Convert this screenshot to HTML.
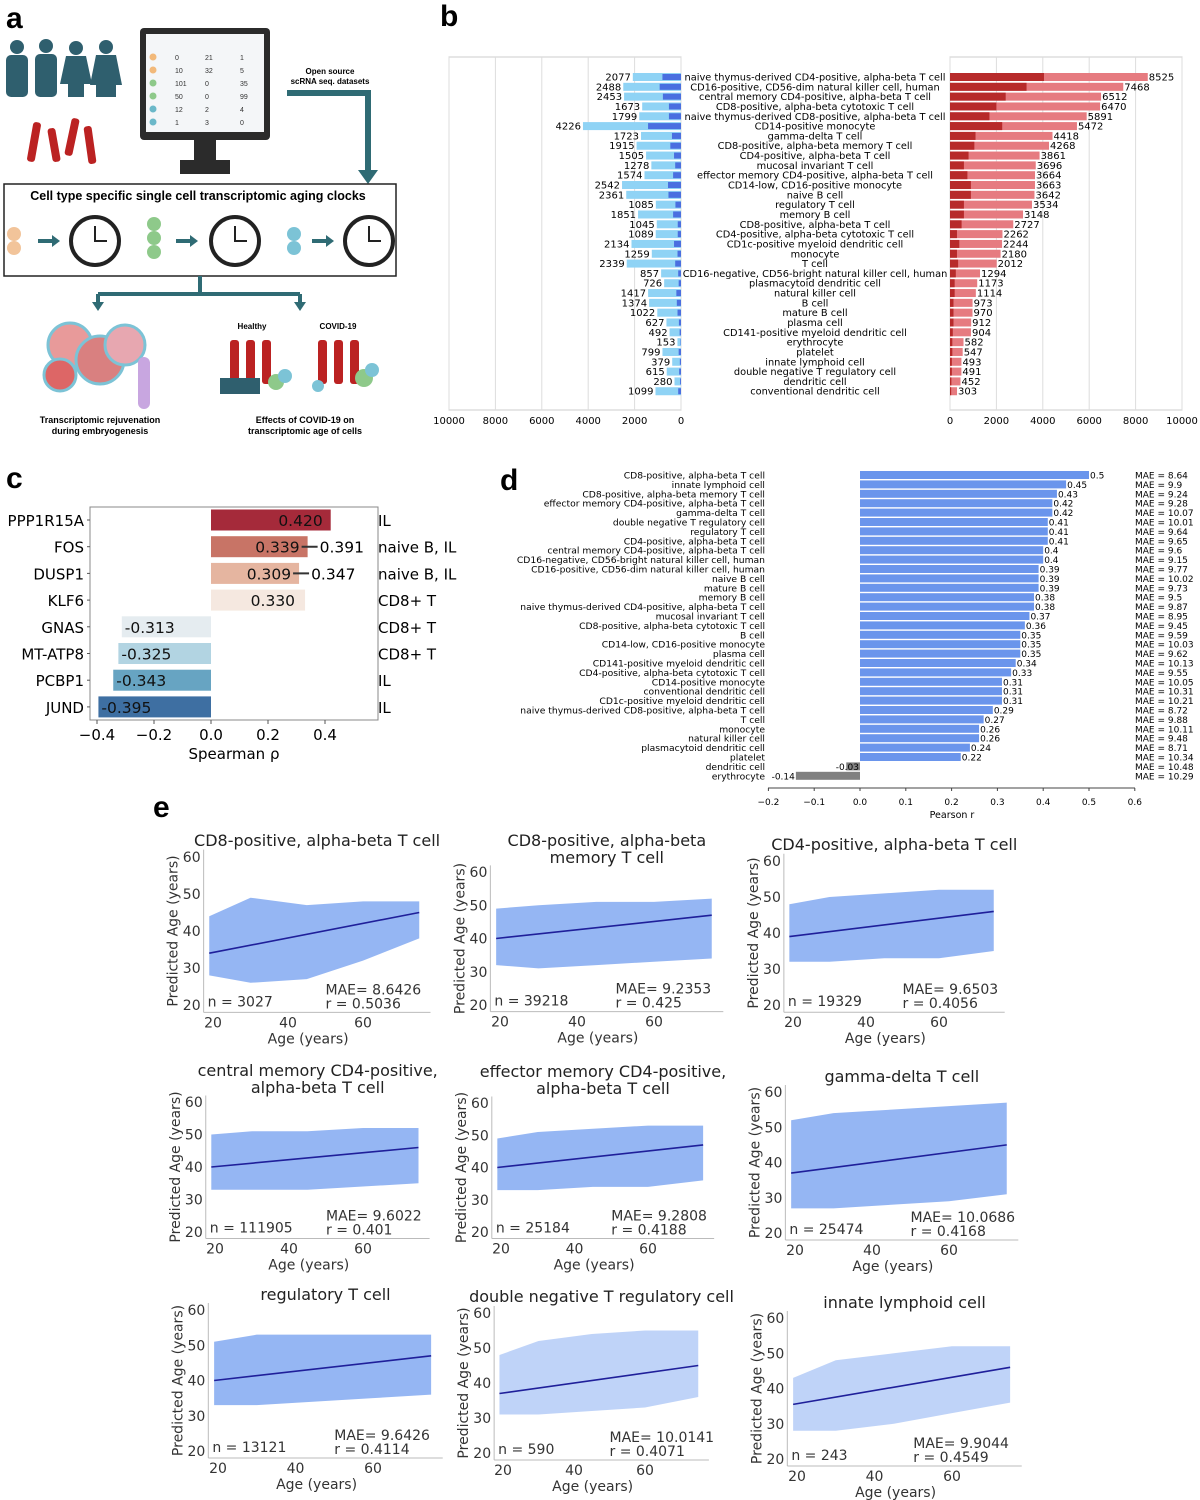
<!DOCTYPE html>
<html><head><meta charset="utf-8">
<style>
body{margin:0;background:#fff;}
svg{display:block;font-family:"DejaVu Sans","Liberation Sans",sans-serif;}
</style></head>
<body>
<svg id="fig" width="1200" height="1500" viewBox="0 0 1200 1500" xmlns="http://www.w3.org/2000/svg">
<rect width="1200" height="1500" fill="#fff"/>
<g id="panelA" font-family="Liberation Sans, sans-serif">
<text x="6" y="28" font-size="30" font-weight="bold">a</text>
<g fill="#2f5f6e">
<circle cx="17" cy="47" r="7"/><rect x="6" y="55" width="22" height="42" rx="5"/>
<circle cx="46" cy="46" r="7"/><rect x="35" y="54" width="22" height="43" rx="5"/>
<circle cx="76" cy="48" r="7"/><path d="M66 56h20l6 28h-8v13h-16v-13h-8z"/>
<circle cx="106" cy="47" r="7"/><path d="M96 55h20l6 30h-6v12h-20v-12h-6z"/>
</g>
<g>
<rect x="30" y="122" width="8" height="40" rx="3" fill="#b22" transform="rotate(10 34 142)"/>
<rect x="50" y="128" width="8" height="34" rx="3" fill="#b22" transform="rotate(-10 54 145)"/>
<rect x="68" y="118" width="8" height="38" rx="3" fill="#b22" transform="rotate(12 72 137)"/>
<rect x="86" y="126" width="8" height="38" rx="3" fill="#b22" transform="rotate(-8 90 145)"/>
</g>
<g>
<rect x="140" y="28" width="130" height="112" rx="4" fill="#2b2b2b"/>
<rect x="146" y="34" width="118" height="98" fill="#f4f6f8"/>
<rect x="194" y="140" width="22" height="22" fill="#2b2b2b"/><rect x="180" y="160" width="50" height="14" fill="#2b2b2b"/>
<g font-size="7" fill="#333">
<text x="175" y="60">0</text><text x="205" y="60">21</text><text x="240" y="60">1</text>
<text x="175" y="73">10</text><text x="205" y="73">32</text><text x="240" y="73">5</text>
<text x="175" y="86">101</text><text x="205" y="86">0</text><text x="240" y="86">35</text>
<text x="175" y="99">50</text><text x="205" y="99">0</text><text x="240" y="99">99</text>
<text x="175" y="112">12</text><text x="205" y="112">2</text><text x="240" y="112">4</text>
<text x="175" y="125">1</text><text x="205" y="125">3</text><text x="240" y="125">0</text>
</g>
<g><circle cx="153" cy="57" r="3.5" fill="#f2b97a"/><circle cx="153" cy="70" r="3.5" fill="#f2b97a"/><circle cx="153" cy="83" r="3.5" fill="#8ec98a"/><circle cx="153" cy="96" r="3.5" fill="#8ec98a"/><circle cx="153" cy="109" r="3.5" fill="#6bb8c9"/><circle cx="153" cy="122" r="3.5" fill="#6bb8c9"/></g>
</g>
<text x="330" y="74" font-size="8" font-weight="bold" text-anchor="middle">Open source</text>
<text x="330" y="84" font-size="8" font-weight="bold" text-anchor="middle">scRNA seq. datasets</text>
<path d="M287 93H368V172" fill="none" stroke="#2f6b74" stroke-width="6"/><path d="M358 170l10 14 10-14z" fill="#2f6b74"/>
<rect x="4" y="184" width="392" height="92" fill="#fff" stroke="#222" stroke-width="1.5"/>
<text x="198" y="200" font-size="12.5" font-weight="bold" text-anchor="middle">Cell type specific single cell transcriptomic aging clocks</text>
<g>
<circle cx="14" cy="234" r="7" fill="#f2c49a"/><circle cx="14" cy="248" r="7" fill="#f2c49a"/>
<path d="M38 241h14" stroke="#2f6b74" stroke-width="4"/><path d="M52 235l8 6-8 6z" fill="#2f6b74"/>
<circle cx="95" cy="241" r="24" fill="#fff" stroke="#222" stroke-width="4"/><path d="M95 226v15h12" stroke="#222" stroke-width="2" fill="none"/>
<circle cx="154" cy="224" r="7" fill="#8ec98a"/><circle cx="154" cy="238" r="7" fill="#8ec98a"/><circle cx="154" cy="252" r="7" fill="#8ec98a"/>
<path d="M176 241h14" stroke="#2f6b74" stroke-width="4"/><path d="M190 235l8 6-8 6z" fill="#2f6b74"/>
<circle cx="235" cy="241" r="24" fill="#fff" stroke="#222" stroke-width="4"/><path d="M235 226v15h12" stroke="#222" stroke-width="2" fill="none"/>
<circle cx="294" cy="234" r="7" fill="#7cc3d6"/><circle cx="294" cy="248" r="7" fill="#7cc3d6"/>
<path d="M312 241h14" stroke="#2f6b74" stroke-width="4"/><path d="M326 235l8 6-8 6z" fill="#2f6b74"/>
<circle cx="369" cy="241" r="24" fill="#fff" stroke="#222" stroke-width="4"/><path d="M369 226v15h12" stroke="#222" stroke-width="2" fill="none"/>
</g>
<path d="M200 276v18M98 294h202M98 294v10M300 294v10" stroke="#2f6b74" stroke-width="4" fill="none"/>
<path d="M92 302l6 9 6-9z M294 302l6 9 6-9z" fill="#2f6b74"/>
<g>
<circle cx="70" cy="345" r="22" fill="#e89a9a" stroke="#7cc3d6" stroke-width="3"/>
<circle cx="100" cy="360" r="24" fill="#d98080" stroke="#7cc3d6" stroke-width="3"/>
<circle cx="125" cy="345" r="20" fill="#e7a7b0" stroke="#7cc3d6" stroke-width="3"/>
<circle cx="60" cy="375" r="16" fill="#d66" stroke="#7cc3d6" stroke-width="3"/>
<rect x="138" y="357" width="12" height="52" rx="6" fill="#c8a6e0"/>
</g>
<text x="100" y="423" font-size="9" font-weight="bold" text-anchor="middle">Transcriptomic rejuvenation</text>
<text x="100" y="434" font-size="9" font-weight="bold" text-anchor="middle">during embryogenesis</text>
<text x="252" y="329" font-size="8" font-weight="bold" text-anchor="middle">Healthy</text>
<text x="338" y="329" font-size="8" font-weight="bold" text-anchor="middle">COVID-19</text>
<g>
<rect x="230" y="340" width="9" height="44" rx="3" fill="#b22"/><rect x="246" y="340" width="9" height="44" rx="3" fill="#b22"/><rect x="262" y="340" width="9" height="44" rx="3" fill="#b22"/>
<rect x="318" y="340" width="9" height="44" rx="3" fill="#b22"/><rect x="334" y="340" width="9" height="44" rx="3" fill="#b22"/><rect x="350" y="340" width="9" height="44" rx="3" fill="#b22"/>
<rect x="220" y="378" width="40" height="16" fill="#2f5f6e"/>
<circle cx="276" cy="382" r="8" fill="#8ec98a"/><circle cx="285" cy="376" r="7" fill="#7cc3d6"/>
<circle cx="364" cy="378" r="9" fill="#8ec98a"/><circle cx="372" cy="370" r="7" fill="#7cc3d6"/><circle cx="318" cy="386" r="6" fill="#7cc3d6"/>
</g>
<text x="305" y="423" font-size="9" font-weight="bold" text-anchor="middle">Effects of COVID-19 on</text>
<text x="305" y="434" font-size="9" font-weight="bold" text-anchor="middle">transcriptomic age of cells</text>
</g>
<g id="panelB"></g>
<g id="panelC"></g>
<g id="panelD"></g>
<g id="panelE"></g>
</svg>
<script>
const NS="http://www.w3.org/2000/svg";
// ---------- panel b data ----------
const bCellTypes=["naive thymus-derived CD4-positive, alpha-beta T cell","CD16-positive, CD56-dim natural killer cell, human","central memory CD4-positive, alpha-beta T cell","CD8-positive, alpha-beta cytotoxic T cell","naive thymus-derived CD8-positive, alpha-beta T cell","CD14-positive monocyte","gamma-delta T cell","CD8-positive, alpha-beta memory T cell","CD4-positive, alpha-beta T cell","mucosal invariant T cell","effector memory CD4-positive, alpha-beta T cell","CD14-low, CD16-positive monocyte","naive B cell","regulatory T cell","memory B cell","CD8-positive, alpha-beta T cell","CD4-positive, alpha-beta cytotoxic T cell","CD1c-positive myeloid dendritic cell","monocyte","T cell","CD16-negative, CD56-bright natural killer cell, human","plasmacytoid dendritic cell","natural killer cell","B cell","mature B cell","plasma cell","CD141-positive myeloid dendritic cell","erythrocyte","platelet","innate lymphoid cell","double negative T regulatory cell","dendritic cell","conventional dendritic cell"];
const bLeftTotal=[2077,2488,2453,1673,1799,4226,1723,1915,1505,1278,1574,2542,2361,1085,1851,1045,1089,2134,1259,2339,857,726,1417,1374,1022,627,492,153,799,379,615,280,1099];
const bLeftDark=[800,920,780,520,520,1420,390,460,300,250,340,560,540,240,340,140,140,300,150,250,120,100,200,180,150,90,60,20,100,50,80,40,120];
const bRightTotal=[8525,7468,6512,6470,5891,5472,4418,4268,3861,3696,3664,3663,3642,3534,3148,2727,2262,2244,2180,2012,1294,1173,1114,973,970,912,904,582,547,493,491,452,303];
const bRightDark=[4050,3300,2400,2000,1700,2250,1100,1050,800,600,750,900,900,600,600,500,300,400,300,350,250,200,200,150,150,150,120,100,100,80,80,60,50];
const bTicks=[0,2000,4000,6000,8000,10000];
// ---------- panel c data ----------
const cGenes=["PPP1R15A","FOS","DUSP1","KLF6","GNAS","MT-ATP8","PCBP1","JUND"];
const cRho=[0.420,0.339,0.309,0.330,-0.313,-0.325,-0.343,-0.395];
const cRhoHigh=[null,0.391,0.347,null,null,null,null,null];
const cCellTypes=["IL","naive B, IL","naive B, IL","CD8+ T","CD8+ T","CD8+ T","IL","IL"];
const cTicks=[-0.4,-0.2,0.0,0.2,0.4];
// ---------- panel d data ----------
const dCellTypes=["CD8-positive, alpha-beta T cell","innate lymphoid cell","CD8-positive, alpha-beta memory T cell","effector memory CD4-positive, alpha-beta T cell","gamma-delta T cell","double negative T regulatory cell","regulatory T cell","CD4-positive, alpha-beta T cell","central memory CD4-positive, alpha-beta T cell","CD16-negative, CD56-bright natural killer cell, human","CD16-positive, CD56-dim natural killer cell, human","naive B cell","mature B cell","memory B cell","naive thymus-derived CD4-positive, alpha-beta T cell","mucosal invariant T cell","CD8-positive, alpha-beta cytotoxic T cell","B cell","CD14-low, CD16-positive monocyte","plasma cell","CD141-positive myeloid dendritic cell","CD4-positive, alpha-beta cytotoxic T cell","CD14-positive monocyte","conventional dendritic cell","CD1c-positive myeloid dendritic cell","naive thymus-derived CD8-positive, alpha-beta T cell","T cell","monocyte","natural killer cell","plasmacytoid dendritic cell","platelet","dendritic cell","erythrocyte"];
const dPearson=[0.5,0.45,0.43,0.42,0.42,0.41,0.41,0.41,0.4,0.4,0.39,0.39,0.39,0.38,0.38,0.37,0.36,0.35,0.35,0.35,0.34,0.33,0.31,0.31,0.31,0.29,0.27,0.26,0.26,0.24,0.22,-0.03,-0.14];
const dMAE=["8.64","9.9","9.24","9.28","10.07","10.01","9.64","9.65","9.6","9.15","9.77","10.02","9.73","9.5","9.87","8.95","9.45","9.59","10.03","9.62","10.13","9.55","10.05","10.31","10.21","8.72","9.88","10.11","9.48","8.71","10.34","10.48","10.29"];
const dTicks=[-0.2,-0.1,0.0,0.1,0.2,0.3,0.4,0.5,0.6];
// ---------- panel e data ----------
const eTitles=[["CD8-positive, alpha-beta T cell"],["CD8-positive, alpha-beta","memory T cell"],["CD4-positive, alpha-beta T cell"],["central memory CD4-positive,","alpha-beta T cell"],["effector memory CD4-positive,","alpha-beta T cell"],["gamma-delta T cell"],["regulatory T cell"],["double negative T regulatory cell"],["innate lymphoid cell"]];
const eN=[3027,39218,19329,111905,25184,25474,13121,590,243];
const eMAE=["8.6426","9.2353","9.6503","9.6022","9.2808","10.0686","9.6426","10.0141","9.9044"];
const eR=["0.5036","0.425","0.4056","0.401","0.4188","0.4168","0.4114","0.4071","0.4549"];
const eLineStart=[34,40,39,40,40,37,40,37,35.5];
const eLineEnd=[45,47,46,46,47,45,47,45,46];
const eCloudAges=[19,30,45,60,75];
const eCloudLow=[[28,26,27,32,38],[32,31,32,33,34],[32,32,33,33,35],[33,33,33,34,35],[33,33,34,34,36],[27,27,28,29,31],[33,33,34,35,36],[31,31,32,33,36],[28,28,30,33,36]];
const eCloudHigh=[[44,49,47,48,48],[49,50,51,51,52],[48,50,51,52,52],[50,51,51,52,52],[49,51,52,53,53],[52,54,55,56,57],[51,53,53,53,53],[48,52,54,55,55],[43,48,50,52,52]];
const eTicksX=[20,40,60];
const eTicksY=[20,30,40,50,60];
// panel e layout (pixels): x of age 20 & 60, y of pred 60 & 20, title center
const eLayout=[[213,363,857,1005,840],[500,654,872,1005,840],[793,939,861,1005,844],[215,363,1102,1232,1070],[501,648,1103,1232,1071],[795,949,1092,1233,1076],[218,373,1310,1451,1294],[503,645,1313,1453,1296],[797,952,1318,1459,1302]];

function el(parent,tag,attrs,text){const e=document.createElementNS(NS,tag);for(const k in attrs)e.setAttribute(k,attrs[k]);if(text!==undefined)e.textContent=text;parent.appendChild(e);return e;}

// ===== panel B =====
(function(){
const g=document.getElementById('panelB');
const L0=681,R0=950,pxPer=23.2/1000;const rowY0=77,rowDy=9.82;
const xL=v=>L0-v*pxPer, xR=v=>R0+v*pxPer, yRow=i=>rowY0+i*rowDy;
const lab=el(g,'text',{x:440,y:26,'font-size':30,'font-weight':'bold','font-family':'Liberation Sans, sans-serif'},'b');


el(g,'rect',{x:449,y:57,width:232,height:353,fill:'none',stroke:'#ccc'});
el(g,'rect',{x:950,y:57,width:232,height:353,fill:'none',stroke:'#ccc'});
bTicks.forEach(t=>{
 el(g,'line',{x1:xL(t),x2:xL(t),y1:57,y2:410,stroke:'#ddd'});
 el(g,'line',{x1:xR(t),x2:xR(t),y1:57,y2:410,stroke:'#ddd'});
 const a=el(g,'text',{x:xL(t),y:424,'font-size':10,'text-anchor':'middle'},t);
 
 
 const b=el(g,'text',{x:xR(t),y:424,'font-size':10,'text-anchor':'middle'},t);
 
 
});
el(g,'rect',{x:682,y:60,width:267,height:345,fill:'#fff'});
bCellTypes.forEach((n,i)=>{
 const y=yRow(i);
 let r=el(g,'rect',{x:xL(bLeftTotal[i]),y:y-4,width:bLeftTotal[i]*pxPer,height:8,fill:'#8fd3f5'});
 
 
 r=el(g,'rect',{x:xL(bLeftDark[i]),y:y-3,width:bLeftDark[i]*pxPer,height:6,fill:'#4a6fe0'});
 
 
 r=el(g,'rect',{x:R0,y:y-4,width:bRightTotal[i]*pxPer,height:8,fill:'#e67b80'});
 
 
 r=el(g,'rect',{x:R0,y:y-4,width:bRightDark[i]*pxPer,height:8,fill:'#b72a2a'});
 
 
 let t=el(g,'text',{x:xL(bLeftTotal[i])-2,y:y+3.5,'font-size':10,'text-anchor':'end'},bLeftTotal[i]);
 
 
 t=el(g,'text',{x:xR(bRightTotal[i])+1,y:y+3.5,'font-size':10},bRightTotal[i]);
 
 
 t=el(g,'text',{x:815,y:y+3.5,'font-size':9.8,'text-anchor':'middle'},n);
 
 
});
})();

// ===== panel C =====
(function(){
const g=document.getElementById('panelC');
const x=v=>211+v*285, yRow=i=>520+i*26.7;
const colors=['#a52a3a','#c87466','#e5b5a0','#f5e8e0','#e5ecf0','#b2d4e2','#67a4c2','#3e6fa2'];
const lab=el(g,'text',{x:6,y:488,'font-size':30,'font-weight':'bold','font-family':'Liberation Sans, sans-serif'},'c');


el(g,'rect',{x:90,y:507,width:288,height:213,fill:'none',stroke:'#888','stroke-width':1});
cGenes.forEach((gn,i)=>{
 const y=yRow(i),v=cRho[i];
 const r=el(g,'rect',{x:Math.min(x(0),x(v)),y:y-10.5,width:Math.abs(v)*285,height:21,fill:colors[i]});
 
 
 let t;
 if(v>0) t=el(g,'text',{x:x(v)-(i===3?10:8),y:y+6,'font-size':15.5,'text-anchor':'end',fill:'#111'},v.toFixed(3));
 else t=el(g,'text',{x:x(v)+3,y:y+6,'font-size':15.5,fill:'#111'},v.toFixed(3));
 
 
 if(cRhoHigh[i]!==null){
  el(g,'line',{x1:x(v)-6,x2:x(v)+10,y1:y,y2:y,stroke:'#333','stroke-width':2});
  const h=el(g,'text',{x:x(v)+12,y:y+6,'font-size':15.5},cRhoHigh[i].toFixed(3));
  
  
 }
 const gl=el(g,'text',{x:84,y:y+6,'font-size':15,'text-anchor':'end'},gn);
 
 
 el(g,'line',{x1:87,x2:90,y1:y,y2:y,stroke:'#555'});
 const cl=el(g,'text',{x:378,y:y+6,'font-size':15},cCellTypes[i]);
 
 
});
cTicks.forEach(t=>{
 el(g,'line',{x1:x(t),x2:x(t),y1:720,y2:724,stroke:'#555'});
 const tt=el(g,'text',{x:x(t),y:740,'font-size':15,'text-anchor':'middle'},(t<0?'\u2212':'')+Math.abs(t).toFixed(1));
 
 
});
const xt=el(g,'text',{x:234,y:759,'font-size':15,'text-anchor':'middle'},'Spearman \u03c1');


})();

// ===== panel D =====
(function(){
const g=document.getElementById('panelD');
const x=v=>860+v*458, yRow=i=>475+i*9.4;
const lab=el(g,'text',{x:500,y:490,'font-size':30,'font-weight':'bold','font-family':'Liberation Sans, sans-serif'},'d');


el(g,'line',{x1:768,x2:1135,y1:788,y2:788,stroke:'#444'});
dTicks.forEach(t=>{
 el(g,'line',{x1:x(t),x2:x(t),y1:788,y2:791,stroke:'#444'});
 const tt=el(g,'text',{x:x(t),y:805,'font-size':9,'text-anchor':'middle'},(t<0?'\u2212':'')+Math.abs(t).toFixed(1));
 
 
});
const xt=el(g,'text',{x:952,y:818,'font-size':9.5,'text-anchor':'middle'},'Pearson r');


dCellTypes.forEach((n,i)=>{
 const y=yRow(i),v=dPearson[i];
 const r=el(g,'rect',{x:Math.min(x(0),x(v)),y:y-4,width:Math.abs(v)*458,height:8,fill:v<0?'#808080':'#6a95ec'});
 
 
 let t=el(g,'text',{x:765,y:y+3.5,'font-size':9.2,'text-anchor':'end'},n);
 
 
 let vx, anchor='start';
 if(v>=0){vx=x(v)+1;} else if(i===dCellTypes.length-1){vx=x(v)-1;anchor='end';} else {vx=x(0)-1;anchor='end';}
 t=el(g,'text',{x:vx,y:y+3.5,'font-size':9,'text-anchor':anchor},String(v));
 
 
 t=el(g,'text',{x:1135,y:y+3.5,'font-size':9},'MAE = '+dMAE[i]);
 
 
});
})();

// ===== panel E =====
(function(){
const g=document.getElementById('panelE');
const lab=el(g,'text',{x:153,y:817,'font-size':30,'font-weight':'bold','font-family':'Liberation Sans, sans-serif'},'e');


eTitles.forEach((title,k)=>{
 const [a20,a60,p60,p20,ty]=eLayout[k];
 const sx=(a60-a20)/40, sy=(p20-p60)/40;
 const X=v=>a20+(v-20)*sx, Y=v=>p20-(v-20)*sy;
 const sp=el(g,'g',{});
 
 
 const left=X(17.5), bottom=Y(18), right=X(78), top=Y(62);
 let pts=eCloudAges.map((a,j)=>X(a)+','+Y(eCloudHigh[k][j]));
 pts=pts.concat(eCloudAges.slice().reverse().map((a,j)=>X(a)+','+Y(eCloudLow[k][eCloudAges.length-1-j])));
 const sparse=eN[k]<1000;
 const cl=el(sp,'polygon',{points:pts.join(' '),fill:'#8aaef2',opacity:sparse?0.55:0.9});
 
 
 const ln=el(sp,'line',{x1:X(19),y1:Y(eLineStart[k]),x2:X(75),y2:Y(eLineEnd[k]),stroke:'#1f1f9a','stroke-width':1.6});
 
 
 el(sp,'line',{x1:left,x2:left,y1:top,y2:bottom,stroke:'#bbb'});
 el(sp,'line',{x1:left,x2:right,y1:bottom,y2:bottom,stroke:'#bbb'});
 eTicksY.forEach(t=>{const tt=el(sp,'text',{x:left-3,y:Y(t)+5,'font-size':14,'text-anchor':'end',fill:'#333'},t);
  
  });
 eTicksX.forEach(t=>{const tt=el(sp,'text',{x:X(t),y:bottom+15,'font-size':14,'text-anchor':'middle',fill:'#333'},t);
  
  });
 const xt=el(sp,'text',{x:(X(20)+X(75))/2-8,y:bottom+31,'font-size':14,'text-anchor':'middle',fill:'#333'},'Age (years)');
 
 
 const yt=el(sp,'text',{x:0,y:0,'font-size':14,'text-anchor':'middle',fill:'#333',transform:`translate(${left-26},${(top+bottom)/2}) rotate(-90)`},'Predicted Age (years)');
 
 
 title.forEach((line,li)=>{
  const tl=el(sp,'text',{x:(left+X(78))/2,y:ty+6+li*17,'font-size':16,'text-anchor':'middle',fill:'#222'},line);
  
  
 });
 let t=el(sp,'text',{x:left+4,y:bottom-6,'font-size':14,fill:'#333'},'n = '+eN[k]);
 
 
 t=el(sp,'text',{x:X(50),y:bottom-18,'font-size':14,fill:'#333'},'MAE= '+eMAE[k]);
 
 
 t=el(sp,'text',{x:X(50),y:bottom-4,'font-size':14,fill:'#333'},'r = '+eR[k]);
 
 
});
})();
</script>
</body></html>
